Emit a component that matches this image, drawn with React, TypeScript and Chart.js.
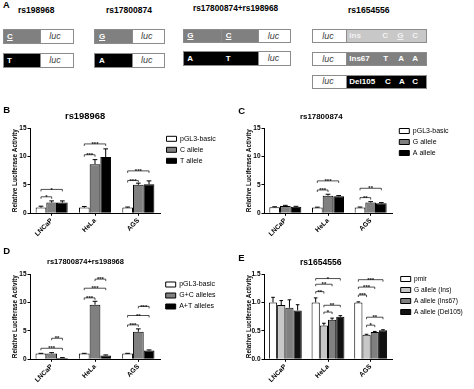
import React, { useEffect, useRef } from "react";
import { Chart, registerables } from "chart.js";

Chart.register(...registerables);

const FONT = "'Liberation Sans', Arial, Helvetica, sans-serif";
Chart.defaults.font.family = FONT;

const cellLines = ["LNCaP", "HeLa", "AGS"];

// Panel B – rs198968
const bSeries = ["pGL3-basic", "C allele", "T allele"];
const bBasic = [1.0, 1.0, 1.0];
const bBasicErr = [0.25, 0.2, 0.1];
const bAlleleC = [1.88, 8.64, 5.0];
const bAlleleCErr = [0.3, 0.8, 0.3];
const bAlleleT = [1.88, 9.88, 5.1];
const bAlleleTErr = [0.3, 1.45, 0.6];
// [cell index, from bar, to bar, bracket height, label]
const bSig = [
  [0, 0, 1, 2.9, "*"],
  [0, 0, 2, 4.2, "*"],
  [1, 0, 1, 10.3, "***"],
  [1, 0, 2, 12.2, "***"],
  [2, 0, 1, 5.76, "***"],
  [2, 0, 2, 7.46, "***"],
];

// Panel C – rs17800874
const cSeries = ["pGL3-basic", "G allele", "A allele"];
const cBasic = [1.05, 1.0, 1.0];
const cBasicErr = [0.1, 0.08, 0.1];
const cAlleleG = [1.3, 3.1, 1.9];
const cAlleleGErr = [0.1, 0.25, 0.15];
const cAlleleA = [1.15, 3.0, 1.76];
const cAlleleAErr = [0.08, 0.12, 0.12];
const cSig = [
  [1, 0, 1, 4.1, "***"],
  [1, 0, 2, 5.7, "***"],
  [2, 0, 1, 2.76, "**"],
  [2, 0, 2, 4.4, "**"],
];

// Panel D – rs17800874+rs198968
const dSeries = ["pGL3-basic", "G+C alleles", "A+T alleles"];
const dBasic = [1.0, 1.0, 1.0];
const dBasicErr = [0.05, 0.05, 0.05];
const dAllelesGC = [1.02, 9.6, 4.85];
const dAllelesGCErr = [0.15, 0.6, 0.5];
const dAllelesAT = [0.25, 0.65, 1.55];
const dAllelesATErr = [0.05, 0.12, 0.1];
const dSig = [
  [0, 0, 2, 1.94, "***"],
  [0, 1, 2, 3.7, "**"],
  [1, 0, 1, 10.8, "***"],
  [1, 0, 2, 12.5, "***"],
  [1, 1, 2, 14.1, "***"],
  [2, 0, 1, 6.05, "***"],
  [2, 0, 2, 7.7, "**"],
  [2, 1, 2, 9.3, "***"],
];

// Panel E – rs1654556
const eSeries = ["pmir", "G allele (Ins)", "A allele (Ins67)", "A allele (Del105)"];
const ePmir = [1.0, 1.0, 1.0];
const ePmirErr = [0.09, 0.08, 0.01];
const eIns = [0.953, 0.594, 0.43];
const eInsErr = [0.08, 0.04, 0.01];
const eIns67 = [0.906, 0.694, 0.48];
const eIns67Err = [0.14, 0.03, 0.01];
const eDel105 = [0.86, 0.747, 0.51];
const eDel105Err = [0.1, 0.02, 0.01];
const eSig = [
  [1, 0, 1, 1.19, "**"],
  [1, 0, 2, 1.32, "**"],
  [1, 0, 3, 1.42, "*"],
  [1, 1, 2, 0.83, "*"],
  [1, 1, 3, 0.95, "**"],
  [2, 0, 1, 1.13, "***"],
  [2, 0, 2, 1.27, "***"],
  [2, 0, 3, 1.4, "***"],
  [2, 1, 2, 0.6, "*"],
  [2, 1, 3, 0.74, "**"],
];

const panels = [
  {
    key: "B",
    left: 0, top: 100, width: 237, height: 145,
    plotLeft: 30, plotTop: 128, plotRight: 160, plotBottom: 213.3,
    legendBoxX: 166.5, legendBoxTop: 136.3, legendFont: 7, legendPad: 4,
    series: bSeries,
    values: [bBasic, bAlleleC, bAlleleT],
    errors: [bBasicErr, bAlleleCErr, bAlleleTErr],
    colors: ["#ffffff", "#808080", "#000000"],
    sig: bSig, yMax: 15, yStep: 5, yDec: 0, groupPct: 0.74,
  },
  {
    key: "C",
    left: 226, top: 100, width: 254, height: 145,
    plotLeft: 264, plotTop: 128, plotRight: 392, plotBottom: 213.3,
    legendBoxX: 399.3, legendBoxTop: 128.5, legendFont: 7, legendPad: 4,
    series: cSeries,
    values: [cBasic, cAlleleG, cAlleleA],
    errors: [cBasicErr, cAlleleGErr, cAlleleAErr],
    colors: ["#ffffff", "#808080", "#000000"],
    sig: cSig, yMax: 15, yStep: 5, yDec: 0, groupPct: 0.75,
  },
  {
    key: "D",
    left: 0, top: 245, width: 237, height: 144,
    plotLeft: 30, plotTop: 274, plotRight: 160, plotBottom: 359.3,
    legendBoxX: 165.7, legendBoxTop: 282, legendFont: 7, legendPad: 4,
    series: dSeries,
    values: [dBasic, dAllelesGC, dAllelesAT],
    errors: [dBasicErr, dAllelesGCErr, dAllelesATErr],
    colors: ["#ffffff", "#808080", "#000000"],
    sig: dSig, yMax: 15, yStep: 5, yDec: 0, groupPct: 0.745,
  },
  {
    key: "E",
    left: 226, top: 245, width: 254, height: 144,
    plotLeft: 264, plotTop: 274, plotRight: 392, plotBottom: 359.3,
    legendBoxX: 400.7, legendBoxTop: 276.5, legendFont: 6.6, legendPad: 4.4,
    series: eSeries,
    values: [ePmir, eIns, eIns67, eDel105],
    errors: [ePmirErr, eInsErr, eIns67Err, eDel105Err],
    colors: ["#ffffff", "#c8c8c8", "#808080", "#111111"],
    sig: eSig, yMax: 1.5, yStep: 0.5, yDec: 1, groupPct: 0.77,
  },
];

function legendNatural(labels: string[], size: number, pad: number) {
  const c = document.createElement("canvas").getContext("2d")!;
  c.font = `${size}px ${FONT}`;
  const w = Math.max(...labels.map((l) => c.measureText(l).width));
  return pad + 10 + size / 2 + w + 10;
}

function makeMarks(errors: number[][], sig: any[], capFrac: number) {
  return {
    id: "marks",
    afterDatasetsDraw(chart: any) {
      const { ctx } = chart;
      const ys = chart.scales.y;
      ctx.save();
      ctx.strokeStyle = "#000";
      ctx.lineWidth = 1;
      chart.data.datasets.forEach((ds: any, i: number) => {
        const meta = chart.getDatasetMeta(i);
        meta.data.forEach((bar: any, j: number) => {
          const top = ys.getPixelForValue(ds.data[j] + errors[i][j]);
          const half = bar.width * capFrac;
          ctx.beginPath();
          ctx.moveTo(bar.x, bar.y);
          ctx.lineTo(bar.x, top);
          ctx.moveTo(bar.x - half, top);
          ctx.lineTo(bar.x + half, top);
          ctx.stroke();
        });
      });
      ctx.lineWidth = 0.8;
      ctx.strokeStyle = "#222";
      ctx.fillStyle = "#111";
      ctx.font = `bold 6px ${FONT}`;
      ctx.textAlign = "center";
      ctx.textBaseline = "alphabetic";
      sig.forEach(([g, a, b, v, label]: any) => {
        const x1 = chart.getDatasetMeta(a).data[g].x;
        const x2 = chart.getDatasetMeta(b).data[g].x;
        const y = ys.getPixelForValue(v);
        ctx.beginPath();
        ctx.moveTo(x1, y + 2);
        ctx.lineTo(x1, y);
        ctx.lineTo(x2, y);
        ctx.lineTo(x2, y + 2);
        ctx.stroke();
        ctx.fillText(label, (x1 + x2) / 2, y + 2.2);
      });
      ctx.restore();
    },
  };
}

function BarPanel({ cfg }: { cfg: any }) {
  const ref = useRef<HTMLCanvasElement>(null);
  useEffect(() => {
    const canvas = ref.current!;
    const yW = 19;
    const padL = cfg.plotLeft - cfg.left - yW;
    const xH = cfg.top + cfg.height - cfg.plotBottom;
    const fs = cfg.legendFont;
    const lp = cfg.legendPad;
    const bh = 5;
    const base = lp + Math.max((fs - bh) / 2, 0);
    const diff = cfg.legendBoxTop - cfg.plotTop;
    const lt = diff >= base ? diff - base : 0;
    const sp = diff >= base ? 0 : base - diff;
    const padTop = cfg.plotTop - cfg.top - sp;
    const gap = cfg.legendBoxX - cfg.plotRight - lp;
    const natural = legendNatural(cfg.series, fs, lp);
    const padR = cfg.width - (cfg.plotRight - cfg.left) - gap - natural;

    const chart = new Chart(canvas, {
      type: "bar",
      data: {
        labels: cellLines,
        datasets: cfg.series.map((name: string, i: number) => ({
          label: name,
          data: cfg.values[i],
          backgroundColor: cfg.colors[i],
          borderColor: "#000",
          borderWidth: 1,
          yAxisID: "y",
          categoryPercentage: cfg.groupPct,
          barPercentage: 1.0,
        })),
      },
      options: {
        responsive: false,
        maintainAspectRatio: false,
        animation: false,
        devicePixelRatio: 1,
        layout: { padding: { left: padL, right: padR, top: padTop, bottom: 0 } },
        plugins: {
          legend: {
            position: "right",
            align: "start",
            maxWidth: 400,
            title: {
              display: lt > 0,
              text: " ",
              padding: 0,
              font: { size: 1, lineHeight: `${lt}px` },
            },
            labels: {
              boxWidth: 10,
              boxHeight: bh,
              padding: lp,
              color: "#000",
              font: { size: fs },
            },
          },
          title: {
            display: sp > 0,
            text: " ",
            fullSize: false,
            padding: 0,
            font: { size: 1, lineHeight: `${sp}px` },
          },
          tooltip: { enabled: false },
        },
        scales: {
          x: {
            offset: true,
            grid: {
              display: true,
              drawOnChartArea: false,
              drawTicks: true,
              tickLength: 2.5,
              offset: false,
              color: "#000",
              lineWidth: 1,
            },
            border: { display: true, color: "#000", width: 1 },
            ticks: {
              minRotation: 45,
              maxRotation: 45,
              autoSkip: false,
              padding: 1,
              color: "#000",
              font: { size: 6.7, weight: "bold" },
            },
            afterFit: (s: any) => {
              s.height = xH;
            },
          },
          y: {
            min: 0,
            max: cfg.yMax,
            ticks: {
              stepSize: cfg.yStep,
              padding: 1,
              color: "#000",
              font: { size: 6.5, weight: "bold" },
              callback: (v: any) => Number(v).toFixed(cfg.yDec),
            },
            grid: {
              display: true,
              drawOnChartArea: false,
              drawTicks: true,
              tickLength: 2.5,
              color: "#000",
            },
            border: { display: true, color: "#000", width: 1 },
            title: {
              display: true,
              text: "Relative Luciferase Activity",
              color: "#000",
              padding: 0,
              font: { size: 6.4, weight: "bold" },
            },
            afterFit: (s: any) => {
              s.width = yW;
            },
          },
          g: {
            type: "linear",
            position: "right",
            display: true,
            grid: { display: false },
            border: { display: false },
            ticks: { display: false },
            afterFit: (s: any) => {
              s.width = gap;
            },
          },
        },
      } as any,
      plugins: [makeMarks(cfg.errors, cfg.sig, 0.22)],
    });
    return () => chart.destroy();
  }, []);
  return (
    <canvas
      ref={ref}
      width={cfg.width}
      height={cfg.height}
      style={{
        position: "absolute",
        left: cfg.left,
        top: cfg.top,
        width: cfg.width,
        height: cfg.height,
        display: "block",
      }}
    />
  );
}

function Txt(props: {
  x: number;
  base: number;
  size: number;
  bold?: boolean;
  italic?: boolean;
  color?: string;
  underline?: boolean;
  children: React.ReactNode;
}) {
  const { x, base, size, bold, italic, color, underline, children } = props;
  return (
    <div
      style={{
        position: "absolute",
        left: x,
        top: base - 0.8465 * size,
        fontSize: size,
        lineHeight: `${size}px`,
        fontWeight: bold ? 700 : 400,
        fontStyle: italic ? "italic" : "normal",
        color: color || "#000",
        whiteSpace: "nowrap",
        fontFamily: FONT,
        textDecoration: underline ? "underline" : "none",
      }}
    >
      {children}
    </div>
  );
}

function Seg({ x, y, w, h, bg }: { x: number; y: number; w: number; h: number; bg: string }) {
  return (
    <div
      style={{
        position: "absolute",
        left: x,
        top: y,
        width: w,
        height: h,
        background: bg,
        border: "1px solid #8c8c8c",
        boxSizing: "border-box",
      }}
    />
  );
}

const GRAY = "#808080";
const LIGHT = "#c8c8c8";

function Letter({ x, top, h, children, underline, color }: any) {
  return (
    <Txt x={x} base={top + h / 2 + 2.9} size={8} bold color={color || "#fff"} underline={underline}>
      {children}
    </Txt>
  );
}

function Luc({ x, top, h }: any) {
  return (
    <Txt x={x} base={top + h / 2 + 3.4} size={9} italic color="#444">
      luc
    </Txt>
  );
}

function PanelA() {
  return (
    <>
      <Txt x={3} base={8.3} size={9.2} bold>A</Txt>
      <Txt x={18} base={13.3} size={8.5} bold>rs198968</Txt>
      <Txt x={106} base={13.5} size={8.5} bold>rs17800874</Txt>
      <Txt x={193} base={11.5} size={8.3} bold>rs17800874+rs198968</Txt>
      <Txt x={348} base={13.3} size={8.6} bold>rs1654556</Txt>

      {/* rs198968 */}
      <Seg x={3} y={29} w={38} h={15} bg={GRAY} />
      <Seg x={40} y={29} w={34} h={15} bg="#fff" />
      <Letter x={7} top={29} h={15} underline>C</Letter>
      <Luc x={49.3} top={29} h={15} />
      <Seg x={3} y={53} w={38} h={15} bg="#000" />
      <Seg x={40} y={53} w={34} h={15} bg="#fff" />
      <Letter x={7} top={53} h={15}>T</Letter>
      <Luc x={49.3} top={53} h={15} />

      {/* rs17800874 */}
      <Seg x={94} y={29} w={39} h={15} bg={GRAY} />
      <Seg x={132} y={29} w={33} h={15} bg="#fff" />
      <Letter x={99} top={29} h={15} underline>G</Letter>
      <Luc x={141} top={29} h={15} />
      <Seg x={94} y={53} w={39} h={15} bg="#000" />
      <Seg x={132} y={53} w={33} h={15} bg="#fff" />
      <Letter x={99} top={53} h={15}>A</Letter>
      <Luc x={141} top={53} h={15} />

      {/* rs17800874+rs198968 */}
      <Seg x={183} y={29} w={39} h={14} bg={GRAY} />
      <Seg x={221} y={29} w={38} h={14} bg={GRAY} />
      <Seg x={258} y={29} w={33} h={14} bg="#fff" />
      <Letter x={187.3} top={29} h={14} underline>G</Letter>
      <Letter x={225.7} top={29} h={14} underline>C</Letter>
      <Luc x={267.7} top={29} h={14} />
      <Seg x={183} y={51} w={76} h={15} bg="#000" />
      <Seg x={258} y={51} w={33} h={15} bg="#fff" />
      <Letter x={187.3} top={51} h={15}>A</Letter>
      <Letter x={225.7} top={51} h={15}>T</Letter>
      <Luc x={267.7} top={51} h={15} />

      {/* rs1654556 */}
      <Seg x={312} y={29} w={35} h={14} bg="#fff" />
      <Seg x={346} y={29} w={81} h={14} bg={LIGHT} />
      <Luc x={322.3} top={29} h={14} />
      <Letter x={349.3} top={29} h={14} color="#f2f2f2">Ins</Letter>
      <Letter x={382.3} top={29} h={14} color="#f2f2f2">C</Letter>
      <Letter x={397.3} top={29} h={14} color="#f2f2f2" underline>G</Letter>
      <Letter x={412.3} top={29} h={14} color="#f2f2f2">C</Letter>

      <Seg x={312} y={52} w={35} h={14} bg="#fff" />
      <Seg x={346} y={52} w={81} h={14} bg={GRAY} />
      <Luc x={322.3} top={52} h={14} />
      <Letter x={349.3} top={52} h={14}>Ins67</Letter>
      <Letter x={383.3} top={52} h={14}>T</Letter>
      <Letter x={398.3} top={52} h={14}>A</Letter>
      <Letter x={412.3} top={52} h={14}>A</Letter>

      <Seg x={312} y={74.5} w={35} h={14} bg="#fff" />
      <Seg x={346} y={74.5} w={81} h={14} bg="#000" />
      <Luc x={322.3} top={74.5} h={14} />
      <Letter x={349.3} top={74.5} h={14}>Del105</Letter>
      <Letter x={385} top={74.5} h={14}>C</Letter>
      <Letter x={399} top={74.5} h={14}>A</Letter>
      <Letter x={412.3} top={74.5} h={14}>C</Letter>
    </>
  );
}

export default function App() {
  return (
    <div
      style={{
        position: "absolute",
        left: 0,
        top: 0,
        width: 474,
        height: 389,
        overflow: "hidden",
        background: "#fff",
        fontFamily: FONT,
      }}
    >
      <PanelA />
      {panels.map((p) => (
        <BarPanel key={p.key} cfg={p} />
      ))}
      <Txt x={3.3} base={113.3} size={9.5} bold>B</Txt>
      <Txt x={65} base={119.3} size={9.4} bold>rs198968</Txt>
      <Txt x={238.3} base={114} size={9.5} bold>C</Txt>
      <Txt x={300} base={119.3} size={7.9} bold>rs17800874</Txt>
      <Txt x={3.3} base={254} size={9.5} bold>D</Txt>
      <Txt x={47} base={264.3} size={7.5} bold>rs17800874+rs198968</Txt>
      <Txt x={238.3} base={260.7} size={9.5} bold>E</Txt>
      <Txt x={300} base={265.7} size={8.6} bold>rs1654556</Txt>
    </div>
  );
}
